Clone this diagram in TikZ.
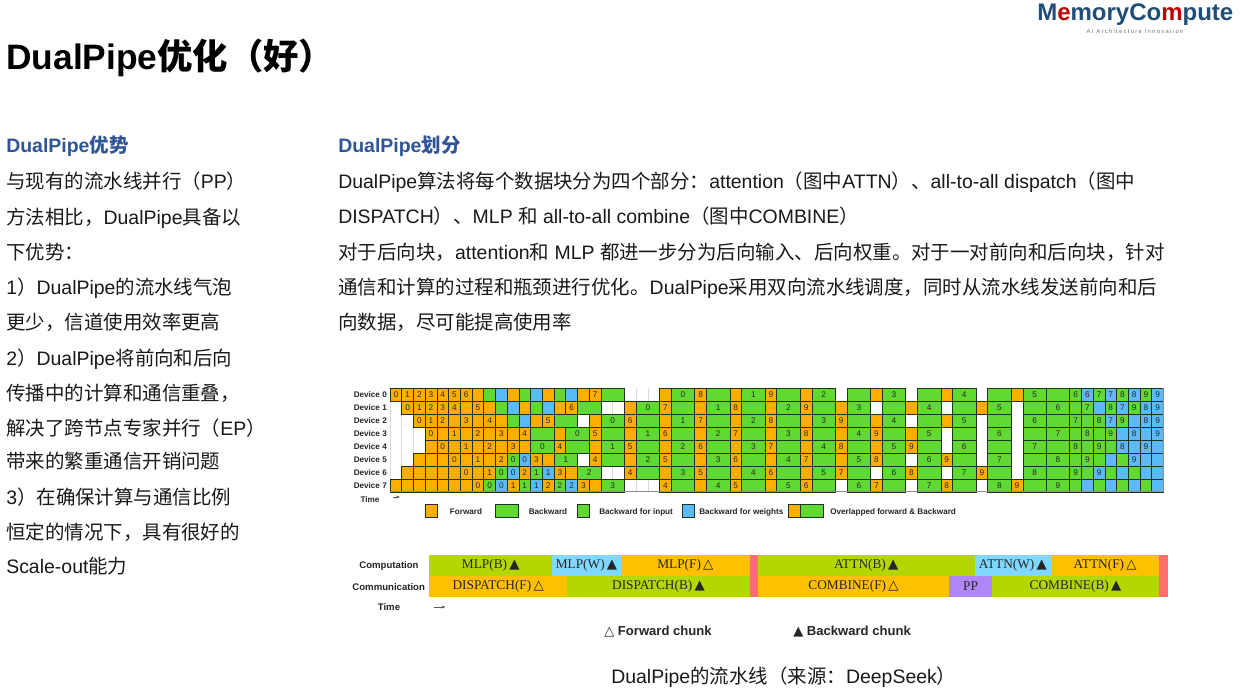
\documentclass[tikz,border=0pt]{standalone}
\usepackage{fontspec}
\usetikzlibrary{arrows.meta, positioning}
\setmainfont{Liberation Sans}
\newfontfamily\cjk{Noto Sans CJK SC}
\newfontfamily\timesfont{Liberation Serif}
\newfontfamily\trifont{DejaVu Sans}
\newfontfamily\logosub[LetterSpace=22]{Liberation Sans}
\newcommand{\zh}[1]{{\cjk #1}}
\newcommand{\fwd}{{\trifont △}}
\newcommand{\bwd}{{\trifont ▲}}
\definecolor{fwdcol}{RGB}{255,174,0}
\definecolor{bwdcol}{RGB}{96,217,50}
\definecolor{wgtcol}{RGB}{90,186,250}
\definecolor{edgecol}{RGB}{30,50,30}
\definecolor{headcol}{RGB}{47,85,151}
\definecolor{logocol}{RGB}{31,78,121}
\definecolor{barg}{RGB}{181,214,0}
\definecolor{barb}{RGB}{128,216,255}
\definecolor{baro}{RGB}{255,192,0}
\definecolor{barr}{RGB}{255,110,110}
\definecolor{barp}{RGB}{176,133,245}
\tikzset{
  o/.style={draw=edgecol, line width=0.5pt, fill=fwdcol},
  g/.style={draw=edgecol, line width=0.5pt, fill=bwdcol},
  b/.style={draw=edgecol, line width=0.5pt, fill=wgtcol},
  n/.style={draw=none},
  digit/.style={inner sep=0pt, font=\fontsize{6.2}{7}\selectfont, text=black!85},
  small/.style={inner sep=0pt, font=\bfseries\fontsize{6.1}{7}\selectfont, text=black!85},
  mid/.style={inner sep=0pt, font=\bfseries\fontsize{7.2}{8}\selectfont, text=black!85},
  chunk/.style={inner sep=0pt, font=\bfseries\fontsize{9.8}{11}\selectfont, text=black!85},
  bar/.style={inner sep=0pt, font=\timesfont\fontsize{10}{12}\selectfont, text=black!85},
  body/.style={anchor=base west, inner sep=0pt, font=\fontsize{14.6}{17}\selectfont, text=black!90},
  head/.style={body, font=\bfseries\fontsize{14.6}{17}\selectfont, text=headcol},
  timearrow/.style={-{Stealth[length=3pt]}, black!65, line width=0.7pt}
}
% one row of the schedule: kind/cells/label
\newcommand{\chunkrow}[2]{
  \foreach \k/\w/\t [evaluate=\w as \nx using int(\cx+\w), remember=\nx as \cx (initially 0)] in {#2} {
    \path[\k] (\cx,#1) rectangle (\nx,#1+1);
    \node[digit] (d#1-\cx) at ({(\cx+\nx)/2},#1+0.5) {\t};
  }
}
\begin{document}
\begin{tikzpicture}[x=0.75pt,y=-0.75pt]
\useasboundingbox (0,0) rectangle (1240,690);
\fill[white] (0,0) rectangle (1240,690);

% Title and logo
\node[anchor=base west, inner sep=0pt, font=\bfseries\fontsize{26.5}{30}\selectfont] (title) at (6,69) {DualPipe\zh{优化（好）}};
\node[anchor=base west, inner sep=0pt, font=\bfseries\fontsize{18}{20}\selectfont, text=logocol] (logo) at (1037,20) {M\textcolor{red!75!black}{e}moryCo\textcolor{red!75!black}{m}pute};
\node[inner sep=0pt, text=black!55, font=\logosub\fontsize{4.4}{5}\selectfont] (slogan) at (1135,31) {AI Architecture Innovation};

% Left column
\node[head] (lefthead) at (6,152) {DualPipe\zh{优势}};
\node[body] (l1) at (6,188) {\zh{与现有的流水线并行（}PP\zh{）}};
\node[body] (l2) at (6,224) {\zh{方法相比，}DualPipe\zh{具备以}};
\node[body] (l3) at (6,259) {\zh{下优势：}};
\node[body] (l4) at (6,294) {1\zh{）}DualPipe\zh{的流水线气泡}};
\node[body] (l5) at (6,329) {\zh{更少，信道使用效率更高}};
\node[body] (l6) at (6,365) {2\zh{）}DualPipe\zh{将前向和后向}};
\node[body] (l7) at (6,400) {\zh{传播中的计算和通信重叠，}};
\node[body] (l8) at (6,435) {\zh{解决了跨节点专家并行（}EP\zh{）}};
\node[body] (l9) at (6,468) {\zh{带来的繁重通信开销问题}};
\node[body] (l10) at (6,504) {3\zh{）在确保计算与通信比例}};
\node[body] (l11) at (6,539) {\zh{恒定的情况下，具有很好的}};
\node[body] (l12) at (6,573) {Scale-out\zh{能力}};

% Right column
\node[head] (righthead) at (338,152) {DualPipe\zh{划分}};
\node[body] (r1) at (338,188) {DualPipe\zh{算法将每个数据块分为四个部分：}attention\zh{（图中}ATTN\zh{）、}all-to-all dispatch\zh{（图中}};
\node[body] (r2) at (338,223) {DISPATCH\zh{）、}MLP \zh{和} all-to-all combine\zh{（图中}COMBINE\zh{）}};
\node[body] (r3) at (338,259) {\zh{对于后向块，}attention\zh{和} MLP \zh{都进一步分为后向输入、后向权重。对于一对前向和后向块，针对}};
\node[body] (r4) at (338,294) {\zh{通信和计算的过程和瓶颈进行优化。}DualPipe\zh{采用双向流水线调度，同时从流水线发送前向和后}};
\node[body] (r5) at (338,329) {\zh{向数据，尽可能提高使用率}};

% Schedule grid
\begin{scope}[shift={(390,388.4)}, x=8.79pt, y=-9.7pt]
  \draw[black!15, line width=0.4pt, xstep=1, ystep=1] (0,0) grid (66,8);
  \chunkrow{0}{o/1/0,o/1/1,o/1/2,o/1/3,o/1/4,o/1/5,o/1/6,o/1/{},g/1/{},b/1/{},o/1/{},g/1/{},b/1/{},o/1/{},g/1/{},b/1/{},o/1/{},o/1/7,g/2/{},n/3/{},o/1/{},g/2/0,o/1/8,g/2/{},o/1/{},g/2/1,o/1/9,g/2/{},o/1/{},g/2/2,n/1/{},g/2/{},o/1/{},g/2/3,n/1/{},g/2/{},o/1/{},g/2/4,n/1/{},g/2/{},o/1/{},g/2/5,g/2/{},g/1/6,b/1/6,g/1/7,b/1/7,g/1/8,b/1/8,g/1/9,b/1/9}
  \chunkrow{1}{n/1/{},o/1/0,o/1/1,o/1/2,o/1/3,o/1/4,o/1/{},o/1/5,o/1/{},g/1/{},b/1/{},o/1/{},g/1/{},b/1/{},o/1/{},o/1/6,g/2/{},n/2/{},o/1/{},g/2/0,o/1/7,g/2/{},o/1/{},g/2/1,o/1/8,g/2/{},o/1/{},g/2/2,o/1/9,g/2/{},o/1/{},g/2/3,n/1/{},g/2/{},o/1/{},g/2/4,n/1/{},g/2/{},o/1/{},g/2/5,n/1/{},g/2/{},g/2/6,g/1/{},g/1/7,b/1/{},g/1/8,b/1/7,g/1/9,b/1/8,b/1/9}
  \chunkrow{2}{n/2/{},o/1/0,o/1/1,o/1/2,o/1/{},o/1/3,o/1/{},o/1/4,o/1/{},g/1/{},b/1/{},o/1/{},o/1/5,g/2/{},n/1/{},o/1/{},g/2/0,o/1/6,g/2/{},o/1/{},g/2/1,o/1/7,g/2/{},o/1/{},g/2/2,o/1/8,g/2/{},o/1/{},g/2/3,o/1/9,g/2/{},o/1/{},g/2/4,n/1/{},g/2/{},o/1/{},g/2/5,n/1/{},g/2/{},n/1/{},g/2/6,g/2/{},g/1/7,g/1/{},g/1/8,b/1/7,g/1/9,b/1/{},b/1/8,b/1/9}
  \chunkrow{3}{n/3/{},o/1/0,o/1/{},o/1/1,o/1/{},o/1/2,o/1/{},o/1/3,o/1/{},o/1/4,g/2/{},o/1/{},g/2/0,o/1/5,g/2/{},o/1/{},g/2/1,o/1/6,g/2/{},o/1/{},g/2/2,o/1/7,g/2/{},o/1/{},g/2/3,o/1/8,g/2/{},o/1/{},g/2/4,o/1/9,g/2/{},o/1/{},g/2/5,n/1/{},g/2/{},n/1/{},g/2/6,n/1/{},g/2/{},g/2/7,g/1/{},g/1/8,g/1/{},g/1/9,b/1/{},b/1/8,b/1/{},b/1/9}
  \chunkrow{4}{n/3/{},o/1/{},o/1/0,o/1/{},o/1/1,o/1/{},o/1/2,o/1/{},o/1/3,o/1/{},g/2/0,o/1/4,g/2/{},o/1/{},g/2/1,o/1/5,g/2/{},o/1/{},g/2/2,o/1/6,g/2/{},o/1/{},g/2/3,o/1/7,g/2/{},o/1/{},g/2/4,o/1/8,g/2/{},o/1/{},g/2/5,o/1/9,g/2/{},n/1/{},g/2/6,n/1/{},g/2/{},n/1/{},g/2/7,g/2/{},g/1/8,g/1/{},g/1/9,g/1/{},b/1/8,b/1/{},b/1/9,b/1/{}}
  \chunkrow{5}{n/2/{},o/1/{},o/1/{},o/1/{},o/1/0,o/1/{},o/1/1,o/1/{},o/1/2,g/1/0,b/1/0,o/1/3,o/1/{},g/2/1,n/1/{},o/1/4,g/2/{},o/1/{},g/2/2,o/1/5,g/2/{},o/1/{},g/2/3,o/1/6,g/2/{},o/1/{},g/2/4,o/1/7,g/2/{},o/1/{},g/2/5,o/1/8,g/2/{},n/1/{},g/2/6,o/1/9,g/2/{},n/1/{},g/2/7,n/1/{},g/2/{},g/2/8,g/1/{},g/1/9,g/1/{},b/1/{},g/1/{},b/1/9,b/1/{},b/1/{}}
  \chunkrow{6}{n/1/{},o/1/{},o/1/{},o/1/{},o/1/{},o/1/{},o/1/0,o/1/{},o/1/1,g/1/0,b/1/0,o/1/2,g/1/1,b/1/1,o/1/3,o/1/{},g/2/2,n/2/{},o/1/4,g/2/{},o/1/{},g/2/3,o/1/5,g/2/{},o/1/{},g/2/4,o/1/6,g/2/{},o/1/{},g/2/5,o/1/7,g/2/{},n/1/{},g/2/6,o/1/8,g/2/{},n/1/{},g/2/7,o/1/9,g/2/{},n/1/{},g/2/8,g/2/{},g/1/9,g/1/{},b/1/9,g/1/{},b/1/{},g/1/{},b/1/{},b/1/{}}
  \chunkrow{7}{o/1/{},o/1/{},o/1/{},o/1/{},o/1/{},o/1/{},o/1/{},o/1/0,g/1/0,b/1/0,o/1/1,g/1/1,b/1/1,o/1/2,g/1/2,b/1/2,o/1/3,o/1/{},g/2/3,n/3/{},o/1/4,g/2/{},o/1/{},g/2/4,o/1/5,g/2/{},o/1/{},g/2/5,o/1/6,g/2/{},n/1/{},g/2/6,o/1/7,g/2/{},n/1/{},g/2/7,o/1/8,g/2/{},n/1/{},g/2/8,o/1/9,g/2/{},g/2/9,g/1/{},b/1/{},g/1/{},b/1/{},g/1/{},b/1/{},g/1/{},b/1/{}}
  \draw[black!45, line width=0.8pt] (66,0) -- (66,8) -- (0,8);
  \foreach \r in {0,...,7}
    \node[small, anchor=east] (dev\r) at (-0.25,\r+0.5) {Device \r};
\end{scope}

% Legend of the grid
\node[small] (timea) at (370,499.5) {Time};
\coordinate (ta1) at (393,497);
\coordinate (ta2) at (400,497);
\draw[timearrow] (ta1) -- (ta2);
\path[o] (425,504.5) rectangle (437.3,517.5);
\node[small] (lega) at (466,512) {Forward};
\path[g] (495.7,504.5) rectangle (518.7,517.5);
\node[small] (legb) at (548,512) {Backward};
\path[g] (577.7,504.5) rectangle (589.3,517.5);
\node[small, anchor=west] (legc) at (599,512) {Backward for input};
\path[b] (682.7,504.5) rectangle (694.7,517.5);
\node[small, anchor=west] (legd) at (699,512) {Backward for weights};
\path[o] (788.3,504.5) rectangle (800,517.5);
\path[g] (800,504.5) rectangle (823.3,517.5);
\node[small, anchor=west] (lege) at (830,512) {Overlapped forward \& Backward};

% Computation and communication bars
\foreach \xa/\xb/\k/\t in {429.3/552.3/barg/{MLP(B)\,\bwd},552.3/620.7/barb/{MLP(W)\,\bwd},620.7/750/baro/{MLP(F)\,\fwd},750/757.7/barr/{},757.7/974.7/barg/{ATTN(B)\,\bwd},974.7/1051/barb/{ATTN(W)\,\bwd},1051/1159.3/baro/{ATTN(F)\,\fwd},1159.3/1167.7/barr/{}} {
  \fill[\k] (\xa,555) rectangle (\xb,576);
  \node[bar] (comp\xa) at ({(\xa+\xb)/2},565.5) {\t};
}
\foreach \xa/\xb/\k/\t in {429.3/567/baro/{DISPATCH(F)\,\fwd},567/750/barg/{DISPATCH(B)\,\bwd},750/757.7/barr/{},757.7/949.3/baro/{COMBINE(F)\,\fwd},949.3/991.7/barp/{PP},991.7/1159.3/barg/{COMBINE(B)\,\bwd},1159.3/1167.7/barr/{}} {
  \fill[\k] (\xa,576) rectangle (\xb,597);
  \node[bar] (comm\xa) at ({(\xa+\xb)/2},586.5) {\t};
}
\node[mid] (comp) at (389,565.7) {Computation};
\node[mid] (comm) at (388.7,587) {Communication};
\node[mid] (timeb) at (389,607) {Time};
\coordinate (tb1) at (434,607);
\coordinate (tb2) at (445.5,607);
\draw[timearrow] (tb1) -- (tb2);

% Chunk legend and caption
\node[chunk, anchor=west] (fchunk) at (604,632) {\fwd{} Forward chunk};
\node[chunk, anchor=west] (bchunk) at (793,632) {\bwd{} Backward chunk};
\node[body] (caption) at (611,683) {DualPipe\zh{的流水线（来源：}DeepSeek\zh{）}};
\end{tikzpicture}
\end{document}
